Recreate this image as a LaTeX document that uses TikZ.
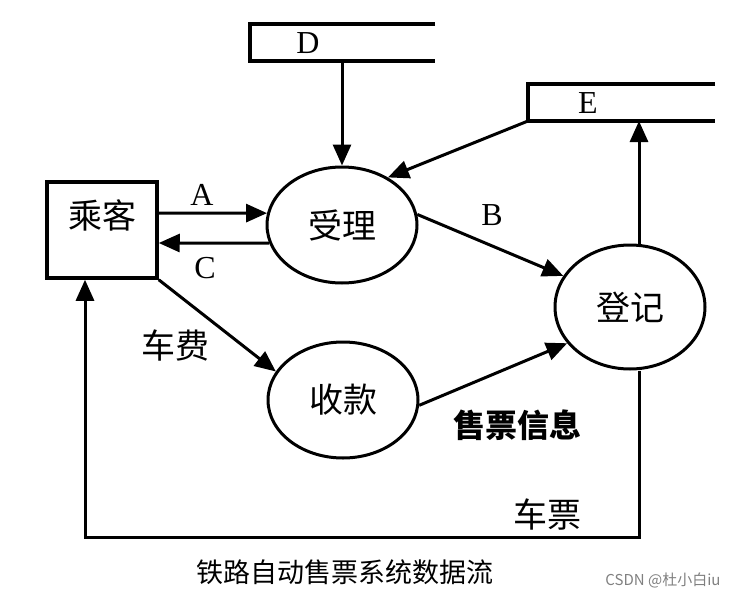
\documentclass[tikz,border=0pt]{standalone}
\usepackage{fontspec}
\setmainfont{Liberation Serif}
\newfontfamily\cjk{Noto Sans CJK SC}
\usetikzlibrary{arrows.meta,shapes.geometric}

\begin{document}
\begin{tikzpicture}[x=1pt,y=-1pt,
    flow/.style={-{Triangle[length=21pt,width=18pt]},line width=3pt},
    store/.style={line width=3.5pt},
    proc/.style={draw,ellipse,line width=3pt,minimum width=150pt,minimum height=116pt,font=\cjk\fontsize{34}{40}\selectfont},
    lbl/.style={font=\cjk\fontsize{34}{40}\selectfont},
    letter/.style={font=\fontsize{32}{36}\selectfont}]
            \useasboundingbox (0,0) rectangle (740,600);
            % entity and processes
            \node[draw,line width=3.5pt,minimum width=110pt,minimum height=96pt] (passenger) at (102,230) {};
            \node[lbl] (passengertext) at (102,215) {乘客};
            \node[proc] (accept) at (342,225) {受理};
            \node[proc,minimum height=124pt] (register) at (630,307) {登记};
            \node[proc] (pay) at (343,400) {收款};
            % data stores
            \draw[store] (435,24) -| (250,61) -- (435,61);
            \node[letter] (D) at (308,43) {D};
            \draw[store] (715,84) -| (528,121) -- (715,121);
            \node[letter] (E) at (588,103) {E};
            \coordinate (Dout) at (342,61);
            \coordinate (Eout) at (528,121);
            \coordinate (Ein) at (639,121);
            \coordinate (corner) at (85,537);
            % flows
            \draw[flow] (Dout) to (accept.north);
            \draw[flow] (Eout) to (accept.46);
            \draw[flow] ([yshift=17pt]passenger.east) to (accept.171);
            \draw[flow] (accept.194) to ([yshift=-13pt]passenger.east);
            \draw[flow] (accept.8) to (register.155);
            \draw[flow] (passenger.south east) to (pay.157);
            \draw[flow] (pay.356) to (register.210);
            \draw[flow] (register.north -| Ein) to (Ein);
            \draw[flow] (register.south -| Ein) |- (corner) -- (corner |- passenger.south);
            % labels
            \node[letter] (A) at (202,195) {A};
            \node[letter] (C) at (205,268) {C};
            \node[letter] (B) at (492,215) {B};
            \node[lbl] (fare) at (175,345) {车费};
            \node[lbl,font=\cjk\bfseries\fontsize{32}{38}\selectfont] (info) at (517,425) {售票信息};
            \node[lbl] (ticket) at (547,515) {车票};
            \node[font=\cjk\fontsize{27}{32}\selectfont] (caption) at (345,572) {铁路自动售票系统数据流};
            \node[font=\cjk\fontsize{15}{18}\selectfont,text=gray] (mark) at (663,580) {CSDN @杜小白iu};
        \end{tikzpicture}
\end{document}
